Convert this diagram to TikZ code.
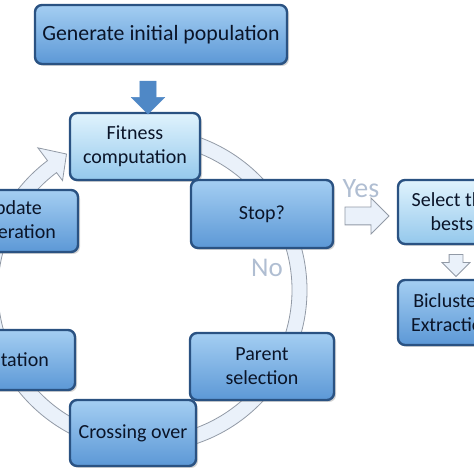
\documentclass[tikz,border=0pt]{standalone}
\usepackage{fontspec}
\setmainfont{Carlito}
\usetikzlibrary{calc,shapes.arrows,shadows}
\definecolor{boxline}{RGB}{42,82,130}
\definecolor{boxtop}{RGB}{164,206,242}
\definecolor{boxbot}{RGB}{92,152,214}
\definecolor{lighttop}{RGB}{224,243,253}
\definecolor{lightbot}{RGB}{148,200,236}
\definecolor{ringfill}{RGB}{234,241,250}
\definecolor{ringline}{RGB}{146,154,166}
\definecolor{arrowblue}{RGB}{79,136,198}
\definecolor{hollow}{RGB}{176,190,210}
\definecolor{ink}{RGB}{10,20,40}

\begin{document}
\begin{tikzpicture}[x=1pt,y=1pt,
  box/.style={draw=boxline,line width=2.4pt,rounded corners=7pt,top color=boxtop,bottom color=boxbot,
    drop shadow={shadow xshift=2pt,shadow yshift=-2pt,opacity=0.35},text=ink,align=center,
    font=\fontsize{20}{24}\selectfont,inner sep=0pt},
  litebox/.style={box,top color=lighttop,bottom color=lightbot},
  hollowarrow/.style={single arrow,draw=ringline,fill=ringfill,line width=0.8pt},
  yesno/.style={text=hollow,font=\fontsize{28}{28}\selectfont}]
  \useasboundingbox (0,0) rectangle (474,474);
  \clip (0,0) rectangle (474,474);
  % the loop
  \coordinate (c) at (145,184);
  \begin{scope}[shift={(c)}]
    \draw[ringline,fill=ringfill,line width=0.8pt] (95:162pt) arc[start angle=95,end angle=-233,radius=162pt]
      -- (-233:178pt) -- (-240:157pt) -- (-233:137pt) -- (-233:147pt)
      arc[start angle=-233,end angle=95,radius=147pt] -- cycle;
  \end{scope}
  \node[box,minimum width=252,minimum height=59,font=\fontsize{21.8}{25}\selectfont] (gen) at (161,439.5) {Generate initial population};
  \node[litebox,minimum width=130,minimum height=67] (fit) at (135,327.5) {Fitness\\computation};
  \node[box,minimum width=142,minimum height=68] (stop) at (262,260) {Stop?};
  \node[box,minimum width=144,minimum height=67] (par) at (262,107.5) {Parent\\selection};
  \node[box,minimum width=126,minimum height=66] (cro) at (133,41) {Crossing over};
  \node[box,minimum width=128,minimum height=60] (mut) at (11,114) {Mutation};
  \node[box,minimum width=132,minimum height=62] (upd) at (12,253) {Update\\generation};
  \node[litebox,minimum width=108,minimum height=64] (sel) at (452,262) {Select the\\bests};
  \node[box,minimum width=108,minimum height=65] (bic) at (452,161.5) {Biclusters\\Extraction};
  % block arrows
  \node[single arrow,fill=arrowblue,draw=arrowblue,inner sep=8pt,minimum height=33,
    single arrow head extend=8.5pt,rotate=-90] (down) at ($(gen.south)!0.5!(fit.north)+(0,-5)$) {};
  \node[hollowarrow,inner sep=8.5pt,minimum height=44,single arrow head extend=9pt] (yesarr)
    at ($(stop.east)!0.5!(sel.west)+(-3,-3)$) {};
  \node[hollowarrow,inner sep=6.5pt,minimum height=22,single arrow head extend=7pt,rotate=-90] (selarr)
    at ($(sel.south)!0.5!(bic.north)+(4,0)$) {};
  \node[yesno] (yes) at (361,285) {Yes};
  \node[yesno,font=\fontsize{27}{27}\selectfont] (no) at (267,206) {No};
\end{tikzpicture}
\end{document}
